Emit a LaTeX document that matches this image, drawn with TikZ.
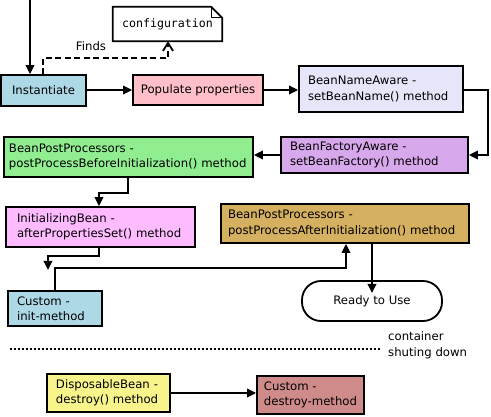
\documentclass[tikz,border=0pt]{standalone}
\usepackage{fontspec}
\setmainfont{DejaVu Sans}
\setmonofont{DejaVu Sans Mono}
\usetikzlibrary{arrows.meta}
\definecolor{cinst}{HTML}{ADD8E6}
\definecolor{cpop}{HTML}{FFBFC8}
\definecolor{cbna}{HTML}{E6E6FA}
\definecolor{cbfa}{HTML}{D8A8EC}
\definecolor{cbppb}{HTML}{90EE90}
\definecolor{cib}{HTML}{FFBBFF}
\definecolor{cbppa}{HTML}{D5B060}
\definecolor{cdb}{HTML}{F8F48C}
\definecolor{ccd}{HTML}{CF8A8A}
\begin{document}
\begin{tikzpicture}[x=1pt,y=-1pt,
  every node/.style={font=\fontsize{11.7}{15.5}\selectfont},
  box/.style={draw, line width=1.8pt, inner xsep=9pt, inner ysep=0pt, align=left, anchor=center},
  conn/.style={line width=1.8pt, -{Triangle[length=9pt,width=8.5pt]}}]
\useasboundingbox (0,0) rectangle (491,417);

% boxes
\node[box, fill=cinst, minimum width=85pt, minimum height=31pt, align=center, inner xsep=0pt] (inst) at (43.5,90.5) {Instantiate};
\node[box, fill=cpop, minimum width=130pt, minimum height=30pt, align=center, inner xsep=0pt] (pop) at (198,90) {Populate properties};
\node[box, fill=cbna, text width=146pt, minimum height=46pt] (bna) at (381,89) {BeanNameAware -\\setBeanName() method};
\node[box, fill=cbfa, text width=169pt, minimum height=36pt] (bfa) at (374.5,155) {BeanFactoryAware -\\setBeanFactory() method};
\node[box, fill=cbppb, inner xsep=5pt, text width=239pt, minimum height=40pt] (bppb) at (128.5,157) {BeanPostProcessors -\\postProcessBeforeInitialization() method};
\node[box, fill=cib, inner xsep=11pt, text width=167pt, minimum height=40pt] (ib) at (100.5,227) {InitializingBean -\\afterPropertiesSet() method};
\node[box, fill=cbppa, inner xsep=7pt, text width=234pt, minimum height=39pt] (bppa) at (345,223.5) {BeanPostProcessors -\\postProcessAfterInitialization() method};
\node[box, fill=cinst, text width=76pt, minimum height=35pt] (ci) at (55,308.5) {Custom -\\init-method};
\node[draw, line width=1.8pt, rounded corners=19pt, minimum width=140pt, minimum height=40pt] (rtu) at (372,301) {Ready to Use};
\node[box, fill=cdb, text width=105pt, minimum height=38pt] (db) at (108.5,393) {DisposableBean -\\destroy() method};
\node[box, fill=ccd, inner xsep=2pt, minimum width=107pt, minimum height=38pt] (cd) at (310.5,395) {Custom -\\destroy-method};

% configuration note
\node[minimum width=109pt, minimum height=34pt, inner sep=0pt] (config) at (167.5,24) {};
\draw[line width=1.8pt, fill=white] (config.north west) -- ([xshift=-11pt]config.north east) -- ([yshift=-11pt]config.north east) -- (config.south east) -- (config.south west) -- cycle;
\draw[line width=1.3pt] ([xshift=-11pt]config.north east) |- ([yshift=-11pt]config.north east);
\node[inner sep=0pt, font=\ttfamily\fontsize{11.6}{13}\selectfont] (configtext) at (config.center) {configuration};

% labels
\node (finds) at (91,46) {Finds};
\node[align=left, anchor=west, inner sep=0pt] (cont) at (388,345.5) {container\\shuting down};

% coordinates
\coordinate (top) at (30,0);
\coordinate (r) at (488,90);
\coordinate (s1) at (128,193);
\coordinate (s2) at (99,256);
\coordinate (s3) at (48,270);
\coordinate (s4) at (55,268);
\coordinate (s5) at (346,268);
\coordinate (rdy) at (372,293);
\coordinate (d1) at (43,58);
\coordinate (d2) at (168,58);
\coordinate (dotA) at (10,349);
\coordinate (dotB) at (380,349);

% connectors
\draw[conn] (top) -- (top |- inst.north);
\draw[conn] (inst.east |- pop.west) -- (pop.west);
\draw[conn] (pop.east) -- (pop.east -| bna.west);
\draw[conn] (pop.east -| bna.east) -- (r) |- (bfa.east);
\draw[conn] (bfa.west) -- (bfa.west -| bppb.east);
\draw[conn] (s1 |- bppb.south) -- (s1) -| (s2 |- ib.north);
\draw[conn] (s2 |- ib.south) -- (s2) -| (s3);
\draw[conn] (s4 |- ci.north) -- (s4) -| (s5 |- bppa.south);
\draw[conn] (rdy |- bppa.south) -- (rdy);
\draw[line width=1.8pt, dash pattern=on 6pt off 3.5pt, -{Straight Barb[length=8pt,width=10pt,line width=1.8pt]}] (d1 |- inst.north) -- (d1) -- (d2) -- (d2 |- config.south);
\draw[line width=2pt, dash pattern=on 2pt off 2pt] (dotA) -- (dotB);
\draw[conn] (db.east |- 0,393) -- (cd.west |- 0,393);
\end{tikzpicture}
\end{document}
